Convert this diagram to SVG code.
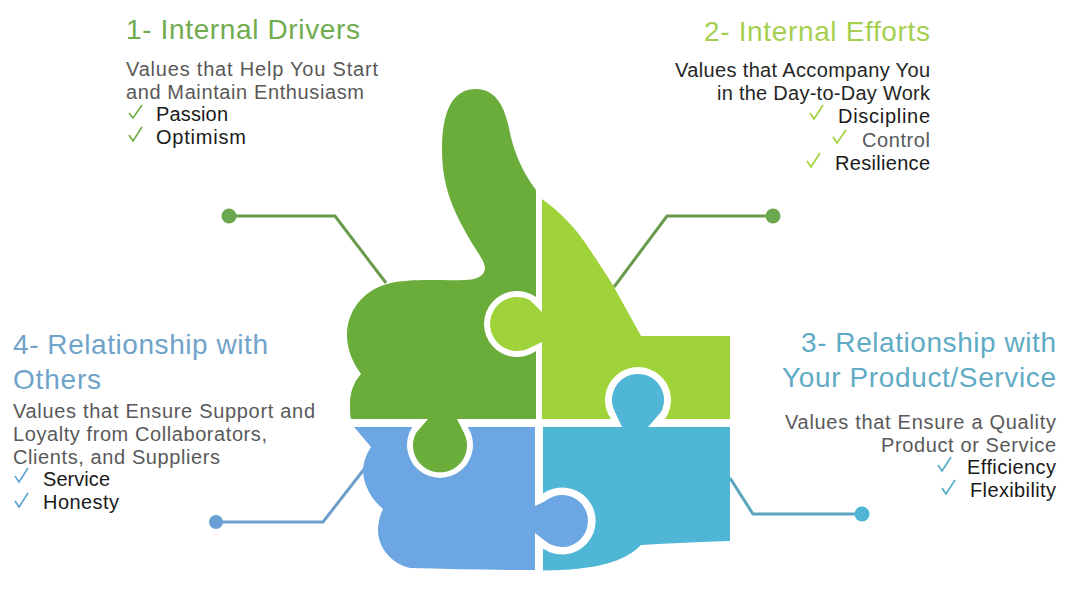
<svg xmlns="http://www.w3.org/2000/svg" width="1066" height="604" viewBox="0 0 1066 604">
<style>
text{font-family:"Liberation Sans",Arial,sans-serif}
.title{font-size:28px}
.body{font-size:20px;fill:#595959}
.dark{font-size:20px;fill:#262626}
.item{font-size:20px;fill:#1a1a1a}
.end{text-anchor:end}
.line{fill:none;stroke-width:3}
.chk{fill:none;stroke-width:1.6}
</style>
<rect width="1066" height="604" fill="#ffffff"/>
<g id="connectors">
<path class="line" stroke="#6a9a4c" d="M229 216H335L386 283"/>
<circle cx="229" cy="216" r="7.500" fill="#6aa84f"/>
<path class="line" stroke="#6a9a4c" d="M773 216H667L614 287"/>
<circle cx="773" cy="216" r="7.500" fill="#6aa84f"/>
<path class="line" stroke="#6d9ec9" d="M216 522H323L365 468"/>
<circle cx="216" cy="522" r="7" fill="#6a9fd6"/>
<path class="line" stroke="#5aa5bd" d="M862 514H753L730 478"/>
<circle cx="862" cy="514" r="7.500" fill="#4fb5d5"/>
</g>
<g id="piece-1">
<path fill="#6aad3b" d="M476 89C452 89 442 112 442 150C442 190 456 215 470 240C478 253 485 262 485 268C485 276 476 280 465 280C440 281 410 278 387 284C362 291 347 312 347 335C347 350 353 363 361 374C354 382 350 392 350 403C350 410 350 414 351 419H428L416 433A27 27 0 1 0 464 433L457 419H536V351A33 33 0 1 1 536 297V190C522 172 513 150 509 128C504 104 494 89 476 89Z"/>
</g>
<g id="piece-2">
<path fill="#a0d239" d="M542 199C560 212 576 228 590 250C600 265 608 277 614 287L641 336H730V419H665A33 33 0 1 0 611 419H542V342L530 347.700A27 27 0 1 1 530 300.300L542 312Z"/>
</g>
<g id="piece-3">
<path fill="#4fb6d6" d="M543 427H622L615 412A26 26 0 1 1 661 412L648 427H730V541C700 542 670 543 641 545C625 562 595 570 543 570.500V548.500A33.500 33.500 0 1 0 543 493.500Z"/>
</g>
<g id="piece-4">
<path fill="#6ca6e3" d="M354 427H412.300A33 33 0 1 0 467.700 427H535V506L545 501.300A26 26 0 1 1 545 540.700L535 533V570C490 570 450 569 410 568C392 564 378 548 378 530C378 522 380 515 383 509C372 500 363 485 363 470C364 460 366 455 371 447Z"/>
</g>
<g id="text-1">
<text class="title" x="126" y="39" fill="#70ab4f" textLength="234">1- Internal Drivers</text>
<text class="body" x="126" y="76" textLength="252">Values that Help You Start</text>
<text class="body" x="126" y="99" textLength="238">and Maintain Enthusiasm</text>
<path class="chk" stroke="#70ad47" d="M129 113L133 118L142 105"/>
<text class="item" x="156" y="121" textLength="72">Passion</text>
<path class="chk" stroke="#70ad47" d="M129 135L133 141L142 127"/>
<text class="item" x="156" y="144" textLength="90">Optimism</text>
</g>
<g id="text-2">
<text class="title end" x="930" y="41" fill="#a5cf4f" textLength="226">2- Internal Efforts</text>
<text class="dark end" x="930" y="77" textLength="255">Values that Accompany You</text>
<text class="dark end" x="930" y="100" textLength="213">in the Day-to-Day Work</text>
<path class="chk" stroke="#a0d239" d="M810 113L814 119L823 105"/>
<text class="item end" x="930" y="123" textLength="92">Discipline</text>
<path class="chk" stroke="#a0d239" d="M833 137L837 143L846 130"/>
<text class="body end" x="930" y="147" textLength="68">Control</text>
<path class="chk" stroke="#a0d239" d="M807 161L811 167L820 153"/>
<text class="item end" x="930" y="170" textLength="95">Resilience</text>
</g>
<g id="text-3">
<text class="title end" x="1056" y="352" fill="#5fabc5" textLength="255">3- Relationship with</text>
<text class="title end" x="1056" y="387" fill="#5fabc5" textLength="274">Your Product/Service</text>
<text class="body end" x="1056" y="429" textLength="271">Values that Ensure a Quality</text>
<text class="body end" x="1056" y="452" textLength="175">Product or Service</text>
<path class="chk" stroke="#4fa9c8" d="M938 465L942 471L951 457"/>
<text class="item end" x="1056" y="474" textLength="89">Efficiency</text>
<path class="chk" stroke="#4fa9c8" d="M942 488L946 494L955 480"/>
<text class="item end" x="1056" y="497" textLength="86">Flexibility</text>
</g>
<g id="text-4">
<text class="title" x="13" y="354" fill="#6fa3c9" textLength="255">4- Relationship with</text>
<text class="title" x="13" y="389" fill="#6fa3c9" textLength="88">Others</text>
<text class="body" x="13" y="418" textLength="302">Values that Ensure Support and</text>
<text class="body" x="13" y="441" textLength="254">Loyalty from Collaborators,</text>
<text class="body" x="13" y="464" textLength="207">Clients, and Suppliers</text>
<path class="chk" stroke="#5ba3cf" d="M15 476L19 482L28 468"/>
<text class="item" x="43" y="486" textLength="67">Service</text>
<path class="chk" stroke="#5ba3cf" d="M15 501L19 507L28 493"/>
<text class="item" x="43" y="509" textLength="76">Honesty</text>
</g>
</svg>
